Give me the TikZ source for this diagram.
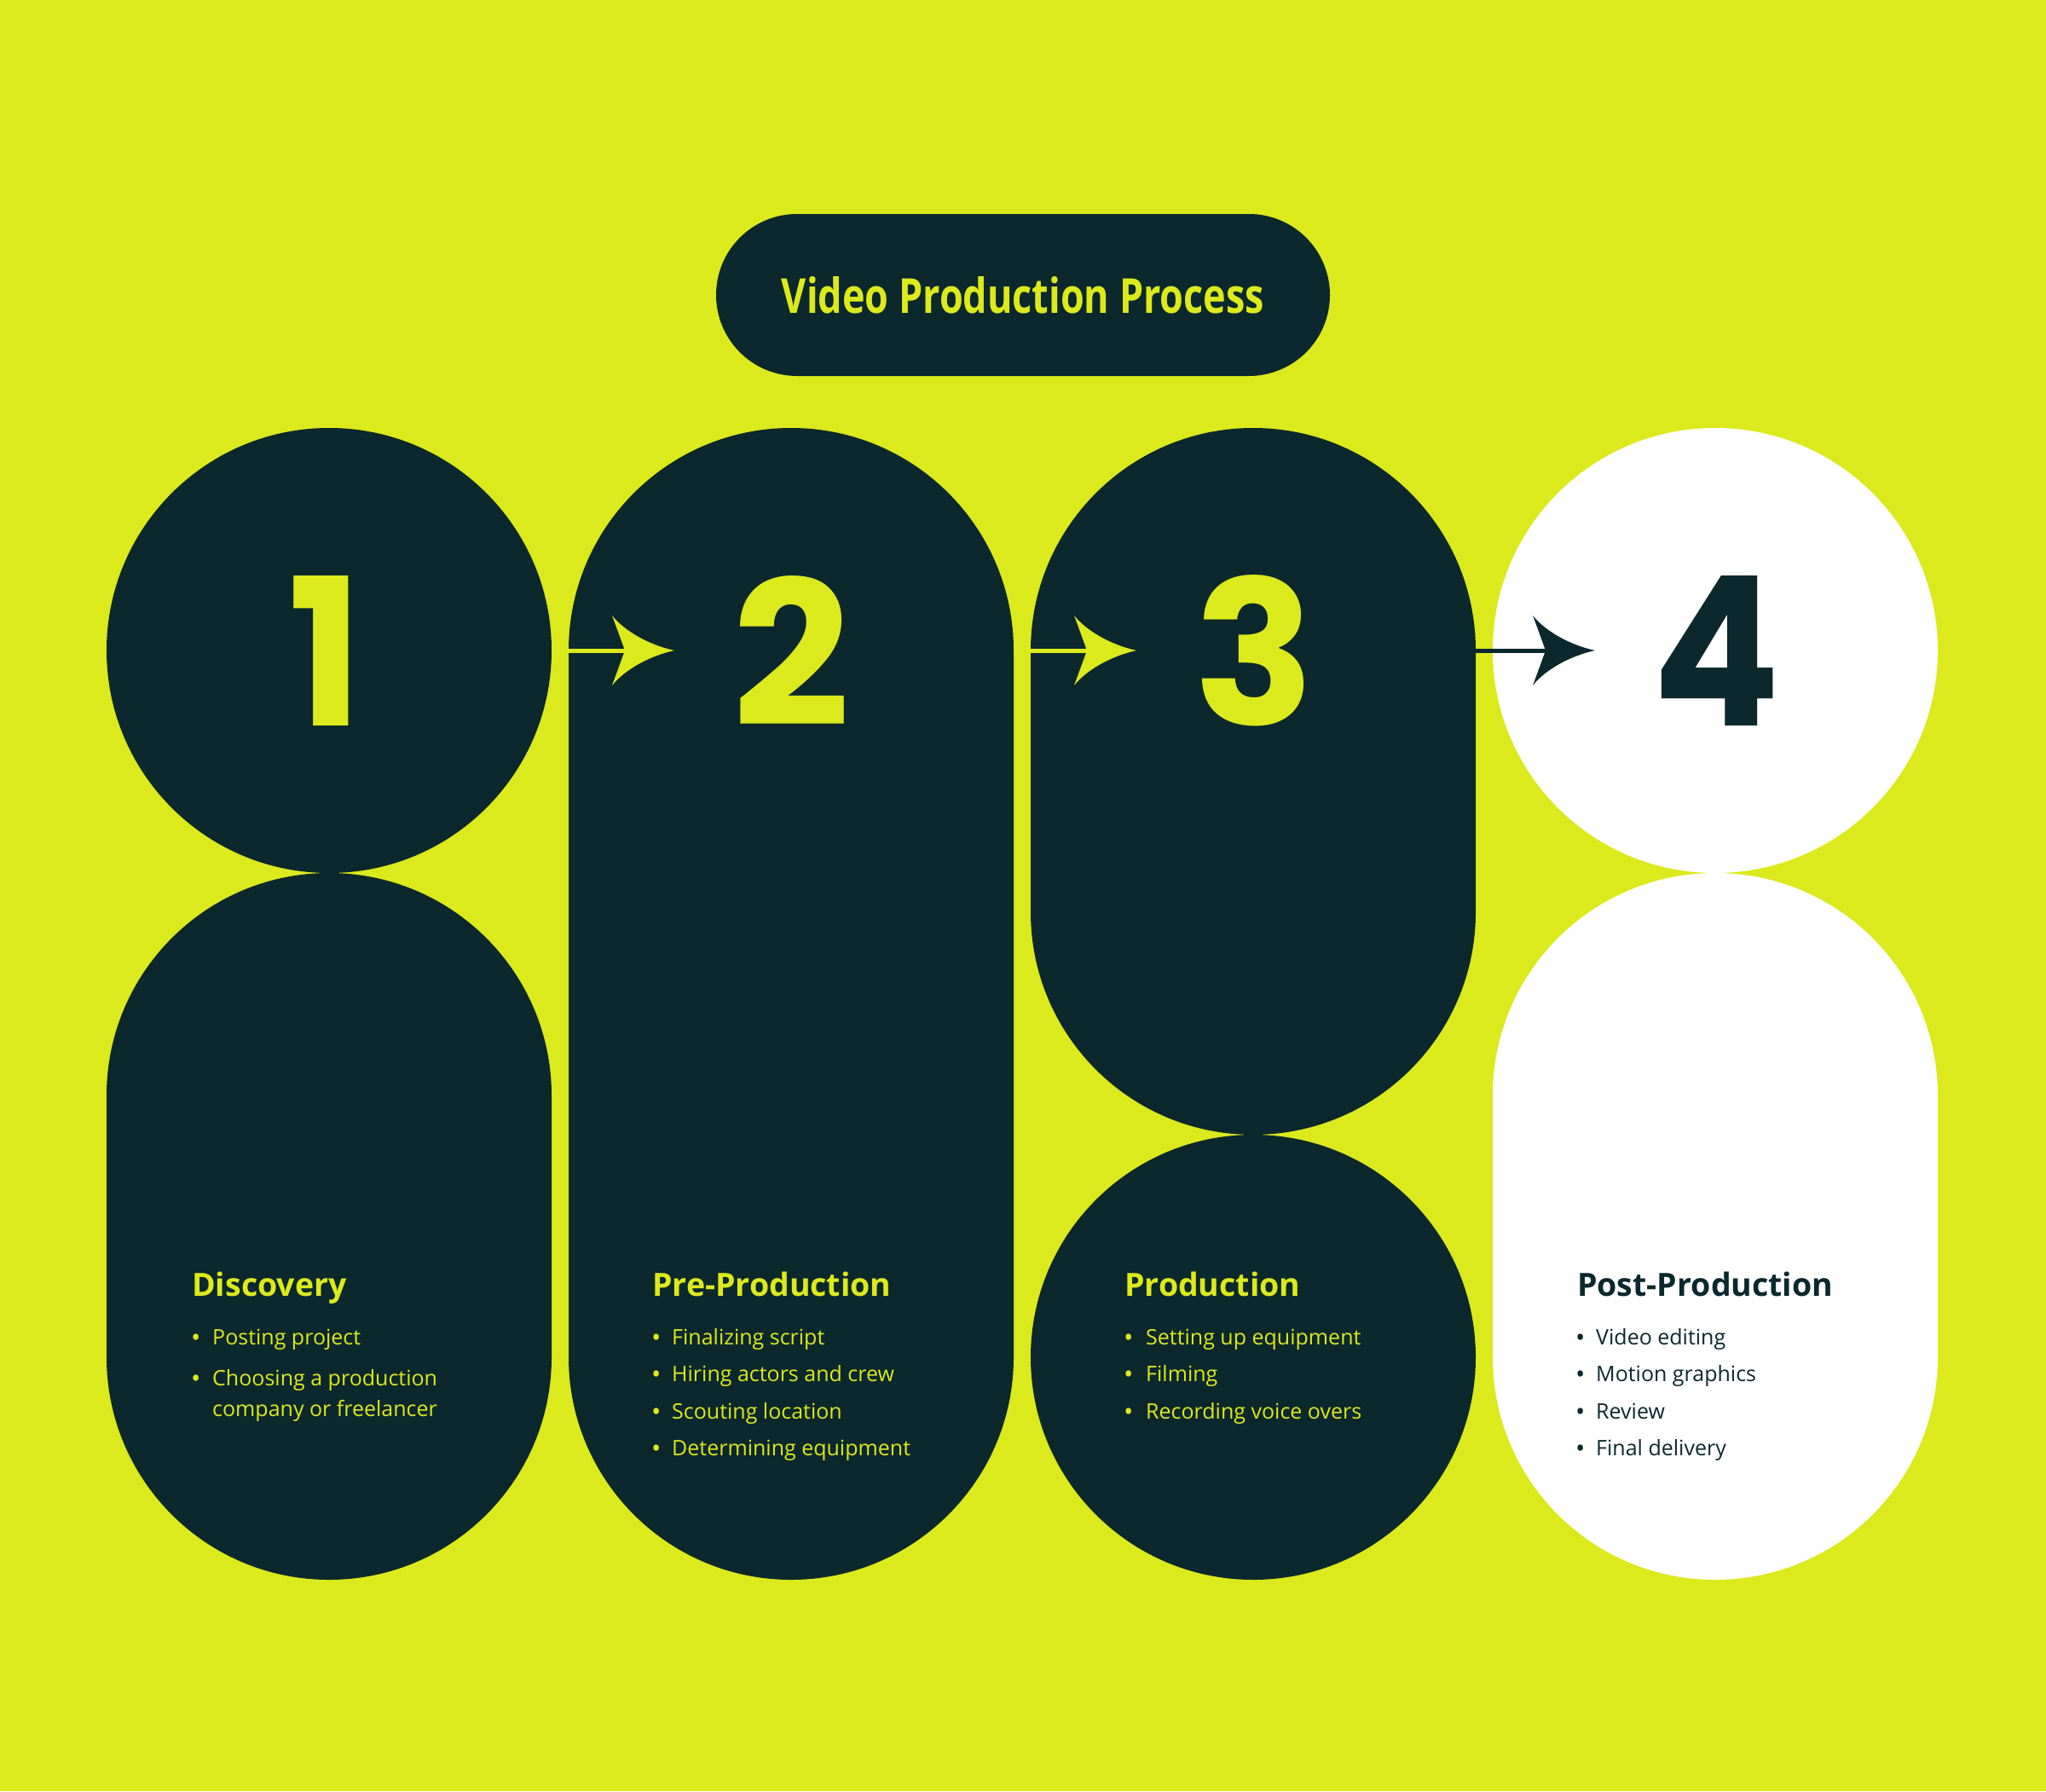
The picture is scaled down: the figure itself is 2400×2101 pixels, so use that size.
\documentclass[tikz,border=0pt]{standalone}
\usepackage{fontspec}
\setmainfont{Open Sans}
\newfontfamily\numfont{Poppins}
\newfontfamily\titlefont{Open Sans}
\definecolor{bg}{HTML}{DCE91C}
\definecolor{ink}{HTML}{0B282D}
\tikzset{
  shapebase/.style={inner sep=0pt, outer sep=0pt, draw=none},
  circ/.style={shapebase, circle, minimum size=522pt},
  stad/.style={shapebase, rectangle, rounded corners=261pt, minimum width=522pt},
  dark/.style={fill=ink},
  light/.style={fill=white},
  digit/.style={inner sep=0pt, anchor=center, font=\numfont\bfseries\fontsize{250}{250}\selectfont},
  headtxt/.style={inner sep=0pt, anchor=base west, font=\bfseries\fontsize{37.5}{44}\selectfont},
  itemtxt/.style={inner sep=0pt, anchor=base west, font=\fontsize{25}{36}\selectfont},
  dottxt/.style={inner sep=0pt, anchor=base west, font=\fontsize{30}{36}\selectfont},
  link/.style={line width=5pt, shorten >=25pt},
  pics/ahead/.style={code={
    \fill (0,0) .. controls (-28,-6) and (-58,-22) .. (-73,-41)
      .. controls (-66,-22) .. (-58,0)
      .. controls (-66,22) .. (-73,41)
      .. controls (-58,22) and (-28,6) .. (0,0) -- cycle;
  }},
}
\begin{document}
\begin{tikzpicture}[x=1pt,y=-1pt]
\fill[bg] (0,0) rectangle (2400,2101);
\useasboundingbox (0,0) rectangle (2400,2101);

% title
\node[shapebase, dark, rectangle, rounded corners=95pt, minimum width=720pt, minimum height=190pt] (title) at (1200,346) {};
\node[inner sep=0pt, text=bg, font=\titlefont\bfseries] (titletxt) at (title.center) {\resizebox{566pt}{43pt}{Video Production Process}};

% column 1
\node[circ, dark] (c1) at (386,763) {};
\node[stad, dark, minimum height=829pt] (s1) at (386,1438.5) {};
% column 2
\node[stad, dark, minimum height=1351pt] (s2) at (928,1177.5) {};
% column 3
\node[stad, dark, minimum height=829pt] (s3) at (1470,916.5) {};
\node[circ, dark] (c3) at (1470,1592) {};
% column 4
\node[circ, light] (c4) at (2012,763) {};
\node[stad, light, minimum height=829pt] (s4) at (2012,1438.5) {};

% digits
\node[digit, text=bg] (d1) at (382,763) {\resizebox{87pt}{176pt}{1}};
\node[digit, text=bg] (d2) at (928,763) {\resizebox{138pt}{176pt}{2}};
\node[digit, text=bg] (d3) at (1471,763) {\resizebox{142pt}{176pt}{3}};
\node[digit, text=ink] (d4) at (2013,763) {\resizebox{150pt}{176pt}{4}};

% arrows
\coordinate (t1) at (791,763);
\coordinate (t2) at (1333,763);
\coordinate (t3) at (1871,763);
\draw[link, bg] (c1.east) -- (t1);
\pic[bg] at (t1) {ahead};
\draw[link, bg] (s2.east |- t2) -- (t2);
\pic[bg] at (t2) {ahead};
\draw[link, ink] (s3.east |- t3) -- (t3);
\pic[ink] at (t3) {ahead};

% column 1 text
\node[headtxt, text=bg] (h1) at (225,1520) {Discovery};
\node[dottxt, text=bg] (b11) at (224,1579) {•};
\node[itemtxt, text=bg] (i11) at (249,1577) {Posting project};
\node[dottxt, text=bg] (b12) at (224,1627) {•};
\node[itemtxt, text=bg] (i12) at (249,1625) {Choosing a production};
\node[itemtxt, text=bg] (i12b) at (249,1661) {company or freelancer};

% column 2 text
\node[headtxt, text=bg] (h2) at (765,1520) {Pre-Production};
\node[dottxt, text=bg] (b21) at (764,1579) {•};
\node[itemtxt, text=bg] (i21) at (788,1577) {Finalizing script};
\node[dottxt, text=bg] (b22) at (764,1622.5) {•};
\node[itemtxt, text=bg] (i22) at (788,1620.5) {Hiring actors and crew};
\node[dottxt, text=bg] (b23) at (764,1666) {•};
\node[itemtxt, text=bg] (i23) at (788,1664) {Scouting location};
\node[dottxt, text=bg] (b24) at (764,1709.5) {•};
\node[itemtxt, text=bg] (i24) at (788,1707.5) {Determining equipment};

% column 3 text
\node[headtxt, text=bg] (h3) at (1319,1520) {Production};
\node[dottxt, text=bg] (b31) at (1318,1579) {•};
\node[itemtxt, text=bg] (i31) at (1344,1577) {Setting up equipment};
\node[dottxt, text=bg] (b32) at (1318,1622.5) {•};
\node[itemtxt, text=bg] (i32) at (1344,1620.5) {Filming};
\node[dottxt, text=bg] (b33) at (1318,1666) {•};
\node[itemtxt, text=bg] (i33) at (1344,1664) {Recording voice overs};

% column 4 text
\node[headtxt, text=ink] (h4) at (1850,1520) {Post-Production};
\node[dottxt, text=ink] (b41) at (1848,1579) {•};
\node[itemtxt, text=ink] (i41) at (1872,1577) {Video editing};
\node[dottxt, text=ink] (b42) at (1848,1622.5) {•};
\node[itemtxt, text=ink] (i42) at (1872,1620.5) {Motion graphics};
\node[dottxt, text=ink] (b43) at (1848,1666) {•};
\node[itemtxt, text=ink] (i43) at (1872,1664) {Review};
\node[dottxt, text=ink] (b44) at (1848,1709.5) {•};
\node[itemtxt, text=ink] (i44) at (1872,1707.5) {Final delivery};
\end{tikzpicture}
\end{document}
